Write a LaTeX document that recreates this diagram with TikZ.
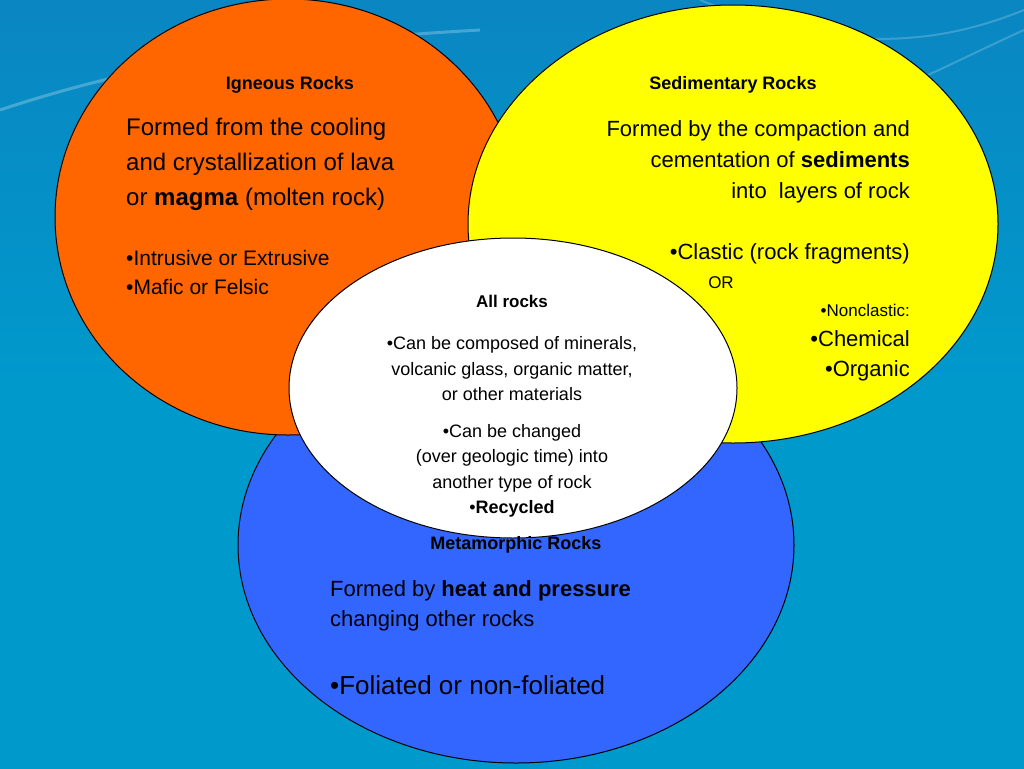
\documentclass[tikz,border=0pt]{standalone}
\usepackage{fontspec}
\setmainfont{Liberation Sans}
\usetikzlibrary{positioning}
\definecolor{bgblue}{HTML}{0099CC}
\definecolor{bgtop}{HTML}{0A86C2}
\definecolor{igneous}{HTML}{FF6600}
\definecolor{sediment}{HTML}{FFFF00}
\definecolor{meta}{HTML}{3366FF}
\begin{document}
\begin{tikzpicture}[x=1pt,y=-1pt,
    rock/.style={draw=black,line width=1pt},
    title/.style={font=\fontsize{18}{20}\selectfont\bfseries,align=center},
    body/.style={font=\fontsize{24}{35}\selectfont,inner sep=0pt},
    small/.style={font=\fontsize{18}{25.5}\selectfont,inner sep=0pt,align=center}]
  % background
  \useasboundingbox (0,0) rectangle (1024,768);
  \shade[top color=bgtop,bottom color=bgblue,middle color=bgblue] (0,0) rectangle (1024,768);
  \draw[white,opacity=0.25,line width=3pt] (0,110) .. controls (150,60) and (300,40) .. (480,30);
  \draw[white,opacity=0.2,line width=2pt] (700,0) .. controls (850,60) and (950,40) .. (1024,10);
  \draw[white,opacity=0.2,line width=2pt] (850,110) .. controls (920,80) and (980,50) .. (1024,30);
  % circles
  \draw[rock,fill=meta] (516,545) ellipse [x radius=278,y radius=218];
  \draw[rock,fill=igneous] (288,217) ellipse [x radius=233,y radius=218];
  \draw[rock,fill=sediment] (733,224) ellipse [x radius=265,y radius=219];
  \draw[rock,fill=white] (513,388) ellipse [x radius=224,y radius=150];
  % igneous
  \node[title] (ign) at (290,85) {Igneous Rocks};
  \node[body,anchor=north west,align=left] (igntext) at (126,118)
    {Formed from the cooling\\and crystallization of lava\\or \textbf{magma} (molten rock)};
  \node[body,anchor=north west,align=left,font=\fontsize{21}{29}\selectfont] (ignlist) at (126,250)
    {•Intrusive or Extrusive\\•Mafic or Felsic};
  % sedimentary
  \node[title] (sed) at (733,85) {Sedimentary Rocks};
  \node[body,anchor=north east,align=right,font=\fontsize{22}{31}\selectfont] (sedtext) at (910,120)
    {Formed by the compaction and\\cementation of \textbf{sediments}\\into\ \ layers of rock};
  \node[body,anchor=east,font=\fontsize{22}{26}\selectfont] (clastic) at (910,254) {•Clastic (rock fragments)};
  \node[small,font=\fontsize{17}{20}\selectfont] (or) at (721,283) {OR};
  \node[small,anchor=east,font=\fontsize{17}{20}\selectfont] (noncl) at (910,310) {•Nonclastic:};
  \node[body,anchor=east,font=\fontsize{22}{26}\selectfont] (chem) at (910,339) {•Chemical};
  \node[body,anchor=east,font=\fontsize{22}{26}\selectfont] (org) at (910,371) {•Organic};
  % all rocks
  \node[title,font=\fontsize{17}{20}\selectfont\bfseries] (all) at (512,301) {All rocks};
  \node[small] (comp) at (512,369) {•Can be composed of minerals,\\volcanic glass, organic matter,\\or other materials};
  \node[small] (chg) at (512,471) {•Can be changed\\(over geologic time) into\\another type of rock\\•\textbf{Recycled}};
  % metamorphic
  \node[title] (met) at (516,545) {Metamorphic Rocks};
  \node[body,anchor=north west,align=left,font=\fontsize{22}{30}\selectfont] (mettext) at (330,580)
    {Formed by \textbf{heat and pressure}\\changing other rocks};
  \node[body,anchor=west,font=\fontsize{26}{30}\selectfont] (fol) at (330,685) {•Foliated or non-foliated};
\end{tikzpicture}
\end{document}
